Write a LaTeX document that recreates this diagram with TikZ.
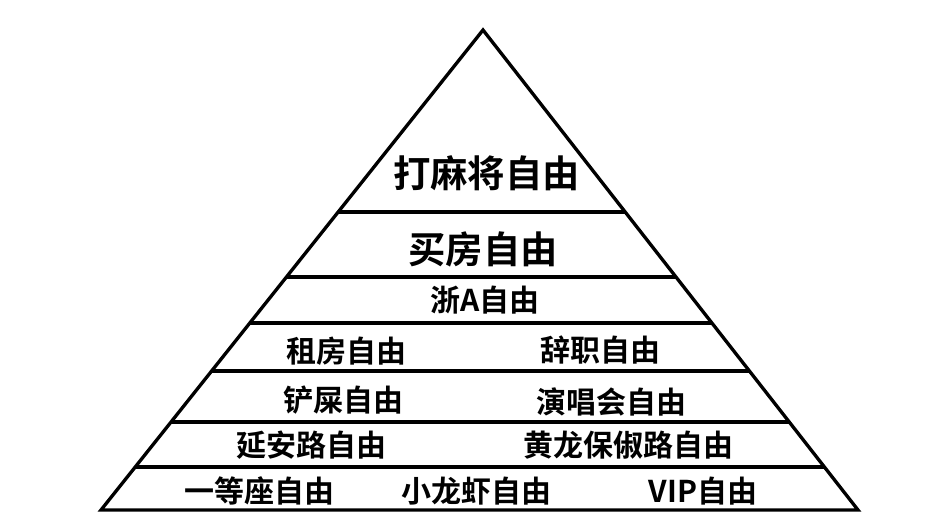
\documentclass[tikz,border=0pt]{standalone}
\usepackage{fontspec}
\newfontfamily\cjk{Noto Sans CJK SC}[BoldFont=* Bold]
\usetikzlibrary{calc}
\begin{document}
\begin{tikzpicture}[x=0.75pt,y=-0.75pt,
  edge/.style={line width=2.5pt,line join=miter,black},
  big/.style={anchor=base,inner sep=0pt,font=\cjk\bfseries\fontsize{28pt}{30pt}\selectfont},
  lbl/.style={anchor=base,inner sep=0pt,font=\cjk\bfseries\fontsize{22.5pt}{24pt}\selectfont}]
\useasboundingbox (0,0) rectangle (950,511);
\fill[white] (0,0) rectangle (950,511);
\coordinate (A) at (483,30);
\coordinate (L) at (101,510);
\coordinate (R) at (858,510);
\draw[edge] (A) -- (L) -- (R) -- cycle;
\foreach \t/\n in {0.3792/1,0.5146/2,0.6104/3,0.7104/4,0.8167/5,0.9104/6}{
  \coordinate (l\n) at ($(A)!\t!(L)$);
  \coordinate (r\n) at ($(A)!\t!(R)$);
  \draw[edge] (l\n) -- (r\n);
}
\node[big] (t1) at (486.5,187) {打麻将自由};
\node[big] (t2) at (483,263) {买房自由};
\node[lbl] (t3) at (485,311) {浙A自由};
\node[lbl] (t4a) at (346,362) {租房自由};
\node[lbl] (t4b) at (600,361) {辞职自由};
\node[lbl] (t5a) at (343,411) {铲屎自由};
\node[lbl] (t5b) at (611,413) {演唱会自由};
\node[lbl] (t6a) at (311,456) {延安路自由};
\node[lbl] (t6b) at (628,456) {黄龙保俶路自由};
\node[lbl] (t7a) at (259,502) {一等座自由};
\node[lbl] (t7b) at (476,502) {小龙虾自由};
\node[lbl] (t7c) at (703,502) {VIP自由};
\end{tikzpicture}
\end{document}
